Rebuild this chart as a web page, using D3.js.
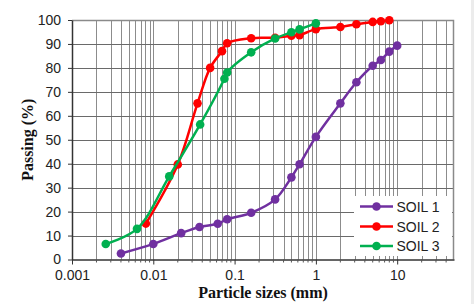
<!DOCTYPE html>
<html>
<head>
<meta charset="utf-8">
<script src="https://cdn.jsdelivr.net/npm/d3@7"></script>
<style>
  body { margin: 0; background: #fff; }
  svg { display: block; }
</style>
</head>
<body>
<div id="chartDiv"></div>
<script>
// particle size (mm) and percent passing
var soil1Size = [0.004, 0.01, 0.022, 0.037, 0.062, 0.081, 0.16, 0.315, 0.5, 0.63, 1.0, 2.0, 3.15, 5.0, 6.3, 8.0, 10];
var soil1Pass = [2.5, 6.5, 11, 13.6, 14.9, 16.8, 19.5, 25.1, 34.3, 39.8, 51.2, 65.2, 74, 80.9, 83.3, 86.8, 89.3];

var soil2Size = [0.0081, 0.02, 0.035, 0.05, 0.07, 0.081, 0.16, 0.315, 0.5, 0.63, 1.0, 2.0, 3.15, 5.0, 6.3, 8.0];
var soil2Pass = [15, 39.7, 65.2, 80, 87, 90.3, 92.4, 92.6, 93.4, 93.7, 96.2, 97.1, 98.2, 99.2, 99.5, 99.9];

var soil3Size = [0.0026, 0.0063, 0.0157, 0.0377, 0.075, 0.081, 0.16, 0.315, 0.5, 0.63, 1.0];
var soil3Pass = [6.5, 12.8, 34.7, 56.4, 75.5, 78.1, 86.5, 92.3, 94.9, 96.1, 98.6];

var seriesNames = ["SOIL 1", "SOIL 2", "SOIL 3"];
var seriesColors = ["#7030a0", "#ff0000", "#00b050"];

var xTicks = [0.001, 0.01, 0.1, 1, 10];
var yTicks = [0, 10, 20, 30, 40, 50, 60, 70, 80, 90, 100];

var W = 474, H = 304;
var margin = {top: 20, right: 20, bottom: 44.5, left: 72};

var svg = d3.select("#chartDiv")
  .append("svg")
    .attr("width", W)
    .attr("height", H);

// light strip at the right edge of the picture
svg.append("rect")
  .attr("x", 471).attr("y", 0).attr("width", 3).attr("height", H)
  .attr("fill", "#ececec");

var xScale = d3.scaleLog()
  .domain([0.001, 50])
  .range([margin.left, W - margin.right]);

var yScale = d3.scaleLinear()
  .domain([0, 100])
  .range([H - margin.bottom, margin.top]);

// vertical grid at 1..9 of every decade
var gridX = [];
for (var e = -3; e <= 1; e++) {
  for (var m = 1; m <= 9; m++) {
    var v = m * Math.pow(10, e);
    if (v > 0.001 && v < 50) gridX.push(+v.toPrecision(3));
  }
}

var grid = svg.append("g");
grid.selectAll("line.vx")
  .data(gridX)
  .enter().append("line")
    .attr("class", "vx")
    .attr("x1", d => Math.round(xScale(d)) + 0.5)
    .attr("x2", d => Math.round(xScale(d)) + 0.5)
    .attr("y1", yScale(100))
    .attr("y2", yScale(0))
    .attr("stroke", "#8c8c8c")
    .attr("stroke-width", 1);

grid.selectAll("line.hy")
  .data(yTicks.slice(1, -1))
  .enter().append("line")
    .attr("class", "hy")
    .attr("x1", xScale(0.001))
    .attr("x2", xScale(50))
    .attr("y1", d => Math.round(yScale(d)) + 0.5)
    .attr("y2", d => Math.round(yScale(d)) + 0.5)
    .attr("stroke", "#6a6a6a")
    .attr("stroke-width", 1);

// top and right border
svg.append("path")
  .attr("d", "M" + xScale(0.001) + "," + (yScale(100) + 0.5) + "H" + (xScale(50) - 0.5) + "V" + yScale(0))
  .attr("fill", "none")
  .attr("stroke", "#8a8a8a")
  .attr("stroke-width", 1.5);

// X axis
var xAxis = svg.append("g")
  .attr("transform", "translate(0," + yScale(0) + ")")
  .call(d3.axisBottom(xScale)
    .tickValues(xTicks)
    .tickFormat(d => d >= 1 ? d3.format("d")(d) : String(d))
    .tickSize(5)
    .tickSizeOuter(0));
xAxis.select(".domain").attr("stroke", "#333").attr("stroke-width", 1.5);
xAxis.selectAll(".tick line").attr("stroke", "#333");
xAxis.selectAll("text")
  .attr("font-family", "Liberation Sans, Arial, sans-serif")
  .attr("font-size", 14)
  .attr("fill", "#222")
  .attr("dy", "0.9em");

// minor ticks on x
xAxis.selectAll("line.minor")
  .data(gridX.filter(d => xTicks.indexOf(d) < 0))
  .enter().append("line")
    .attr("class", "minor")
    .attr("x1", d => xScale(d)).attr("x2", d => xScale(d))
    .attr("y1", 0).attr("y2", 3)
    .attr("stroke", "#555");

// Y axis
var yAxis = svg.append("g")
  .attr("transform", "translate(" + xScale(0.001) + ",0)")
  .call(d3.axisLeft(yScale)
    .tickValues(yTicks)
    .tickSize(4)
    .tickPadding(7)
    .tickSizeOuter(0));
yAxis.select(".domain").attr("stroke", "#333").attr("stroke-width", 1.5);
yAxis.selectAll(".tick line").attr("stroke", "#333");
yAxis.selectAll("text")
  .attr("font-family", "Liberation Sans, Arial, sans-serif")
  .attr("font-size", 14)
  .attr("fill", "#222");

// axis titles
svg.append("text")
  .attr("x", 263)
  .attr("y", 298)
  .attr("text-anchor", "middle")
  .attr("font-family", "Liberation Serif, Times New Roman, serif")
  .attr("font-weight", "bold")
  .attr("font-size", 16)
  .attr("fill", "#111")
  .text("Particle sizes (mm)");

svg.append("text")
  .attr("transform", "translate(33," + ((yScale(0) + yScale(100)) / 2) + ") rotate(-90)")
  .attr("text-anchor", "middle")
  .attr("font-family", "Liberation Serif, Times New Roman, serif")
  .attr("font-weight", "bold")
  .attr("font-size", 16)
  .attr("fill", "#111")
  .text("Passing (%)");

// series
var series = [
  {name: seriesNames[0], color: seriesColors[0], pts: d3.zip(soil1Size, soil1Pass)},
  {name: seriesNames[1], color: seriesColors[1], pts: d3.zip(soil2Size, soil2Pass)},
  {name: seriesNames[2], color: seriesColors[2], pts: d3.zip(soil3Size, soil3Pass)}
];

var line = d3.line()
  .x(d => xScale(d[0]))
  .y(d => yScale(d[1]))
  .curve(d3.curveCatmullRom.alpha(0.5));

var gSeries = svg.append("g");
series.forEach(function(s) {
  gSeries.append("path")
    .datum(s.pts)
    .attr("d", line)
    .attr("fill", "none")
    .attr("stroke", s.color)
    .attr("stroke-width", 2.5);
  gSeries.selectAll(null)
    .data(s.pts)
    .enter().append("circle")
      .attr("cx", d => xScale(d[0]))
      .attr("cy", d => yScale(d[1]))
      .attr("r", 4.3)
      .attr("fill", s.color);
});

// legend
var legend = svg.append("g");
legend.append("rect")
  .attr("x", 354).attr("y", 196)
  .attr("width", 98).attr("height", 60)
  .attr("fill", "#fff");

var rowY = [206.5, 226.5, 246];
series.forEach(function(s, i) {
  legend.append("line")
    .attr("x1", 360).attr("x2", 393)
    .attr("y1", rowY[i]).attr("y2", rowY[i])
    .attr("stroke", s.color)
    .attr("stroke-width", 2.5);
  legend.append("circle")
    .attr("cx", 376.5).attr("cy", rowY[i])
    .attr("r", 4.3)
    .attr("fill", s.color);
  legend.append("text")
    .attr("x", 396.5).attr("y", rowY[i])
    .attr("dy", "0.36em")
    .attr("font-family", "Liberation Sans, Arial, sans-serif")
    .attr("font-size", 14)
    .attr("fill", "#222")
    .text(s.name);
});
</script>
</body>
</html>
